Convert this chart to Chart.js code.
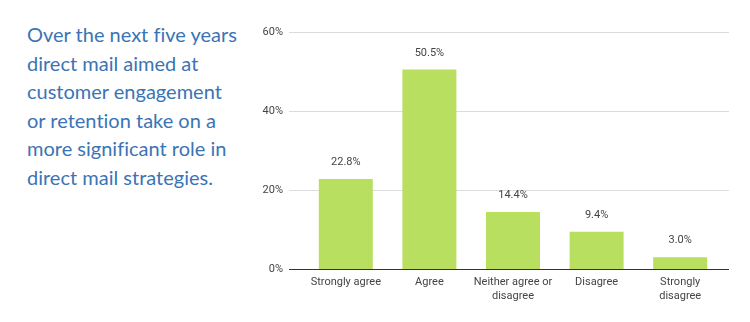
<!DOCTYPE html>
<html>
<head>
<meta charset="utf-8">
<script src="https://cdn.jsdelivr.net/npm/chart.js@4"></script>
<style>
  html, body { margin:0; padding:0; background:#fff; }
  #wrap { position:relative; width:750px; height:322px; overflow:hidden; }
  #title { position:absolute; left:27px; top:20px; font-family:Lato, "Open Sans", sans-serif; font-size:20px; line-height:28.6px; color:#3b74b4; white-space:nowrap; font-variant-ligatures:none; }
  #c { position:absolute; left:0; top:0; }
</style>
</head>
<body>
<div id="wrap">
  <div id="title">Over the next five years<br>direct mail aimed at<br>customer engagement<br>or retention take on a<br>more significant role in<br>direct mail strategies.</div>
  <canvas id="c" width="750" height="322"></canvas>
</div>
<script>
const categories = [["Strongly agree"], ["Agree"], ["Neither agree or", "disagree"], ["Disagree"], ["Strongly", "disagree"]];
const values = [22.8, 50.5, 14.4, 9.4, 3.0];
const yTicks = [0, 20, 40, 60];

const gridPlugin = {
  id: 'extGrid',
  beforeDatasetsDraw(chart) {
    const ctx = chart.ctx, y = chart.scales.y;
    ctx.save();
    yTicks.forEach(v => {
      const py = Math.round(y.getPixelForValue(v)) + 0.5;
      ctx.beginPath();
      ctx.strokeStyle = v === 0 ? '#333333' : '#dcdcdc';
      ctx.lineWidth = 1;
      ctx.moveTo(289, py);
      ctx.lineTo(729, py);
      ctx.stroke();
    });
    ctx.restore();
  }
};

const valueLabels = {
  id: 'valueLabels',
  afterDatasetsDraw(chart) {
    const ctx = chart.ctx;
    const meta = chart.getDatasetMeta(0);
    ctx.save();
    ctx.font = '11px Roboto, sans-serif';
    ctx.fillStyle = '#444444';
    ctx.textAlign = 'center';
    ctx.textBaseline = 'middle';
    meta.data.forEach((bar, i) => {
      ctx.fillText(values[i].toFixed(1) + '%', bar.x, bar.y - 16.5);
    });
    ctx.restore();
  }
};

new Chart(document.getElementById('c'), {
  type: 'bar',
  data: {
    labels: categories,
    datasets: [{
      data: values,
      backgroundColor: '#b9df61',
      borderWidth: 0,
      barPercentage: 0.646,
      categoryPercentage: 1
    }]
  },
  options: {
    responsive: false,
    animation: false,
    devicePixelRatio: 1,
    layout: { padding: { left: 244, right: 28, top: 32, bottom: 13 } },
    plugins: { legend: { display: false }, tooltip: { enabled: false } },
    scales: {
      x: {
        grid: { display: false, drawTicks: false },
        border: { display: false },
        ticks: { font: { family: 'Roboto', size: 11 }, color: '#444444', padding: 7, maxRotation: 0, autoSkip: false },
        afterFit(s) { s.height = 40; }
      },
      y: {
        min: 0, max: 60,
        grid: { display: false, drawTicks: false },
        border: { display: false },
        ticks: { stepSize: 20, padding: 21, font: { family: 'Roboto', size: 11 }, color: '#444444', callback: v => v + '%' },
        afterFit(s) { s.width = 60; }
      }
    }
  },
  plugins: [gridPlugin, valueLabels]
});
</script>
</body>
</html>
